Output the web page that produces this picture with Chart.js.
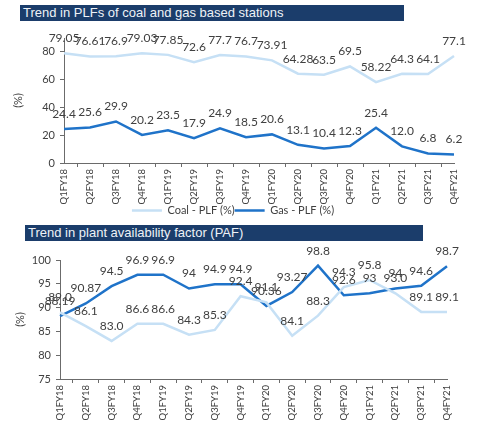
<!DOCTYPE html>
<html>
<head>
<meta charset="utf-8">
<script src="https://cdn.jsdelivr.net/npm/chart.js@4"></script>
<style>
body { margin: 0; background: #fff; width: 480px; height: 426px; position: relative; overflow: hidden; }
.bar { position: absolute; background: #1b3d6b; color: #eef2f7; font: 13px "Liberation Sans", Arial, sans-serif; line-height: 16px; padding-left: 3px; box-sizing: border-box; }
.box { position: absolute; left: 0; width: 480px; }
</style>
</head>
<body>
<div class="box" style="top:24px;height:202px;"><canvas id="plfChart"></canvas></div>
<div class="bar" style="left:20px;top:5px;width:384px;height:16px;">Trend in PLFs of coal and gas based stations</div>
<div class="bar" style="left:25px;top:225px;width:398px;height:16px;">Trend in plant availability factor (PAF)</div>
<div class="box" style="top:244px;height:182px;"><canvas id="pafChart"></canvas></div>
<script>
var quarters = ['Q1FY18','Q2FY18','Q3FY18','Q4FY18','Q1FY19','Q2FY19','Q3FY19','Q4FY19',
	'Q1FY20','Q2FY20','Q3FY20','Q4FY20','Q1FY21','Q2FY21','Q3FY21','Q4FY21'];

// values kept as text so labels show the same digits as the source
var coalPlf = ['79.05','76.61','76.9','79.03','77.85','72.6','77.7','76.7','73.91','64.28','63.5','69.5','58.22','64.3','64.1','77.1'];
var gasPlf = ['24.4','25.6','29.9','20.2','23.5','17.9','24.9','18.5','20.6','13.1','10.4','12.3','25.4','12.0','6.8','6.2'];

var pafLight = ['89.0','86.1','83.0','86.6','86.6','84.3','85.3','92.4','91.1','84.1','88.3','94.3','95.8','93.0','89.1','89.1'];
var pafDark = ['88.19','90.87','94.5','96.9','96.9','94','94.9','94.9','90.36','93.27','98.8','92.6','93','94','94.6','98.7'];

var plfTicks = { min: 0, max: 90, step: 10 };
var pafTicks = { min: 75, max: 100, step: 5 };

var lightBlue = '#c6e0f5';
var midBlue = '#1f73c9';
var axisColor = '#6b6b6b';
var textColor = '#404040';
var font = 'Lato, "Liberation Sans", sans-serif';

Chart.defaults.font.family = font;
Chart.defaults.color = textColor;
Chart.defaults.animation = false;

// draws each value just above its point
var valueLabels = {
	id: 'valueLabels',
	afterDatasetsDraw: function(chart){
		var ctx = chart.ctx;
		ctx.save();
		ctx.font = '12px ' + font;
		ctx.fillStyle = textColor;
		ctx.textAlign = 'center';
		ctx.textBaseline = 'middle';
		chart.data.datasets.forEach(function(ds, i){
			chart.getDatasetMeta(i).data.forEach(function(pt, j){
				ctx.fillText(ds.data[j], pt.x, pt.y - 15);
			});
		});
		ctx.restore();
	}
};

function xAxis(height){
	return {
		grid: { drawOnChartArea: false, offset: true, tickLength: 4, color: axisColor },
		border: { color: axisColor },
		ticks: { minRotation: 90, maxRotation: 90, autoSkip: false, font: { size: 9.5 }, padding: 2 },
		afterFit: function(scale){ scale.height = height; }
	};
}

function yAxis(t, width){
	return {
		min: t.min, max: t.max,
		grid: { drawOnChartArea: false, tickLength: 4, color: axisColor },
		border: { color: axisColor },
		ticks: { stepSize: t.step, font: { size: 11 }, padding: 5 },
		title: { display: true, text: '(%)', font: { size: 11 }, padding: 0 },
		afterFit: function(scale){ scale.width = width; }
	};
}

function lineSet(label, data, color){
	return {
		label: label,
		data: data,
		borderColor: color,
		backgroundColor: color,
		borderWidth: 2.5,
		pointRadius: 0,
		tension: 0,
		clip: false
	};
}

new Chart(document.getElementById('plfChart'), {
	type: 'line',
	data: {
		labels: quarters,
		datasets: [
			lineSet('Coal - PLF (%)', coalPlf, lightBlue),
			lineSet('Gas - PLF (%)', gasPlf, midBlue)
		]
	},
	options: {
		responsive: true,
		maintainAspectRatio: false,
		layout: { padding: { top: 14, right: 26, left: 12, bottom: 0 } },
		plugins: {
			legend: {
				position: 'bottom',
				labels: { usePointStyle: true, pointStyle: 'line', pointStyleWidth: 30, boxHeight: 8, padding: 0, font: { size: 11 } }
			},
			tooltip: { enabled: false }
		},
		scales: { x: xAxis(42), y: yAxis(plfTicks, 52) }
	},
	plugins: [valueLabels]
});

new Chart(document.getElementById('pafChart'), {
	type: 'line',
	data: {
		labels: quarters,
		datasets: [
			lineSet('PAF (light)', pafLight, lightBlue),
			lineSet('PAF (dark)', pafDark, midBlue)
		]
	},
	options: {
		responsive: true,
		maintainAspectRatio: false,
		layout: { padding: { top: 16, right: 33, left: 14, bottom: 0 } },
		plugins: { legend: { display: false }, tooltip: { enabled: false } },
		scales: { x: xAxis(47), y: yAxis(pafTicks, 46) }
	},
	plugins: [valueLabels]
});
</script>
</body>
</html>
